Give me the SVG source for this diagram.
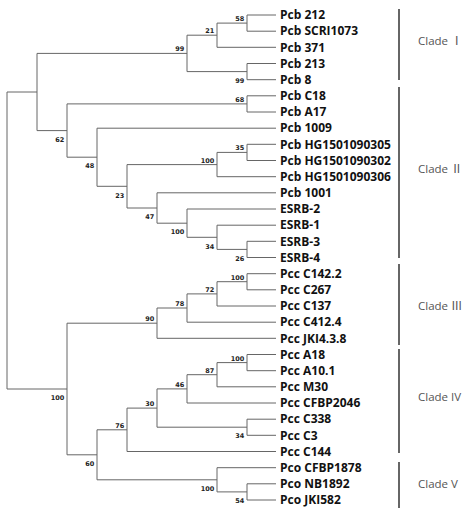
<svg xmlns="http://www.w3.org/2000/svg" width="474" height="515" viewBox="0 0 474 515">
<style>
.br{fill:none;stroke:#666;stroke-width:1}
.leaf{font-family:"Open Sans","Liberation Sans",sans-serif;font-weight:700;font-size:12px;fill:#111}
.bs{font-family:"DejaVu Sans",Verdana,sans-serif;font-weight:700;font-size:6.5px;fill:#222;text-anchor:end}
.bar{stroke:#333;stroke-width:1.5}
.cl{font-family:"Open Sans","Noto Sans CJK KR",sans-serif;font-size:11.5px;fill:#555}
</style>
<rect width="474" height="515" fill="#fff"/>
<g id="connectors">
<path class="br" d="M7,92V389M7,92H37M7,389H67"/>
<path class="br" d="M37,53.4V130.6M37,53.4H187M37,130.6H67"/>
<path class="br" d="M187,35.2V71.6M187,35.2H217M187,71.6H247"/>
<path class="br" d="M217,23.1V47.3M217,23.1H247M217,47.3H276"/>
<path class="br" d="M247,15V31.2M247,15H276M247,31.2H276"/>
<path class="br" d="M247,63.5V79.7M247,63.5H276M247,79.7H276"/>
<path class="br" d="M67,103.9V157.2M67,103.9H247M67,157.2H97"/>
<path class="br" d="M247,95.8V112M247,95.8H276M247,112H276"/>
<path class="br" d="M97,128.2V186.3M97,128.2H276M97,186.3H127"/>
<path class="br" d="M127,164.6V208M127,164.6H217M127,208H157"/>
<path class="br" d="M217,152.4V176.7M217,152.4H247M217,176.7H276"/>
<path class="br" d="M247,144.3V160.5M247,144.3H276M247,160.5H276"/>
<path class="br" d="M157,192.8V223.2M157,192.8H276M157,223.2H187"/>
<path class="br" d="M187,209V237.3M187,209H276M187,237.3H217"/>
<path class="br" d="M217,225.2V249.4M217,225.2H276M217,249.4H247"/>
<path class="br" d="M247,241.3V257.5M247,241.3H276M247,257.5H276"/>
<path class="br" d="M67,323.2V454.8M67,323.2H157M67,454.8H97"/>
<path class="br" d="M157,308V338.3M157,308H187M157,338.3H276"/>
<path class="br" d="M187,293.9V322.2M187,293.9H217M187,322.2H276"/>
<path class="br" d="M217,281.7V306M217,281.7H247M217,306H276"/>
<path class="br" d="M247,273.7V289.8M247,273.7H276M247,289.8H276"/>
<path class="br" d="M97,429.8V479.8M97,429.8H127M97,479.8H217"/>
<path class="br" d="M127,408.1V451.5M127,408.1H157M127,451.5H276"/>
<path class="br" d="M157,388.9V427.2M157,388.9H187M157,427.2H247"/>
<path class="br" d="M187,374.7V403M187,374.7H217M187,403H276"/>
<path class="br" d="M217,362.6V386.8M217,362.6H247M217,386.8H276"/>
<path class="br" d="M247,354.5V370.7M247,354.5H276M247,370.7H276"/>
<path class="br" d="M247,419.2V435.3M247,419.2H276M247,435.3H276"/>
<path class="br" d="M217,467.7V491.9M217,467.7H276M217,491.9H247"/>
<path class="br" d="M247,483.8V500M247,483.8H276M247,500H276"/>
</g>
<g id="bootstrap">
<g id="n99"><text class="bs" x="184.3" y="51.3">99</text></g>
<g id="n21"><text class="bs" x="214.3" y="33.1">21</text></g>
<g id="n58"><text class="bs" x="244.3" y="21">58</text></g>
<g id="n99b"><text class="bs" x="244.3" y="82.8">99</text></g>
<g id="n62"><text class="bs" x="64.3" y="141.8">62</text></g>
<g id="n68"><text class="bs" x="244.3" y="101.8">68</text></g>
<g id="n48"><text class="bs" x="94.3" y="168.4">48</text></g>
<g id="n23"><text class="bs" x="124.3" y="197.5">23</text></g>
<g id="n100a"><text class="bs" x="214.3" y="162.5">100</text></g>
<g id="n35"><text class="bs" x="244.3" y="150.3">35</text></g>
<g id="n47"><text class="bs" x="154.3" y="219.2">47</text></g>
<g id="n100b"><text class="bs" x="184.3" y="234.4">100</text></g>
<g id="n34"><text class="bs" x="214.3" y="248.5">34</text></g>
<g id="n26"><text class="bs" x="244.3" y="260.6">26</text></g>
<g id="n100c"><text class="bs" x="64.3" y="400.2">100</text></g>
<g id="n90"><text class="bs" x="154.3" y="321.1">90</text></g>
<g id="n78"><text class="bs" x="184.3" y="305.9">78</text></g>
<g id="n72"><text class="bs" x="214.3" y="291.8">72</text></g>
<g id="n100d"><text class="bs" x="244.3" y="279.6">100</text></g>
<g id="n60"><text class="bs" x="94.3" y="466">60</text></g>
<g id="n76"><text class="bs" x="124.3" y="427.7">76</text></g>
<g id="n30"><text class="bs" x="154.3" y="406">30</text></g>
<g id="n46"><text class="bs" x="184.3" y="386.8">46</text></g>
<g id="n87"><text class="bs" x="214.3" y="372.6">87</text></g>
<g id="n100f"><text class="bs" x="244.3" y="360.5">100</text></g>
<g id="n34b"><text class="bs" x="244.3" y="438.4">34</text></g>
<g id="n100e"><text class="bs" x="214.3" y="491">100</text></g>
<g id="n54"><text class="bs" x="244.3" y="503.1">54</text></g>
</g>
<g id="leaves">
<g id="leaf0"><text class="leaf" x="280" y="19.2">Pcb 212</text></g>
<g id="leaf1"><text class="leaf" x="280" y="35.4">Pcb SCRI1073</text></g>
<g id="leaf2"><text class="leaf" x="280" y="51.5">Pcb 371</text></g>
<g id="leaf3"><text class="leaf" x="280" y="67.7">Pcb 213</text></g>
<g id="leaf4"><text class="leaf" x="280" y="83.9">Pcb 8</text></g>
<g id="leaf5"><text class="leaf" x="280" y="100">Pcb C18</text></g>
<g id="leaf6"><text class="leaf" x="280" y="116.2">Pcb A17</text></g>
<g id="leaf7"><text class="leaf" x="280" y="132.4">Pcb 1009</text></g>
<g id="leaf8"><text class="leaf" x="280" y="148.5">Pcb HG1501090305</text></g>
<g id="leaf9"><text class="leaf" x="280" y="164.7">Pcb HG1501090302</text></g>
<g id="leaf10"><text class="leaf" x="280" y="180.9">Pcb HG1501090306</text></g>
<g id="leaf11"><text class="leaf" x="280" y="197">Pcb 1001</text></g>
<g id="leaf12"><text class="leaf" x="280" y="213.2">ESRB-2</text></g>
<g id="leaf13"><text class="leaf" x="280" y="229.4">ESRB-1</text></g>
<g id="leaf14"><text class="leaf" x="280" y="245.5">ESRB-3</text></g>
<g id="leaf15"><text class="leaf" x="280" y="261.7">ESRB-4</text></g>
<g id="leaf16"><text class="leaf" x="280" y="277.9">Pcc C142.2</text></g>
<g id="leaf17"><text class="leaf" x="280" y="294">Pcc C267</text></g>
<g id="leaf18"><text class="leaf" x="280" y="310.2">Pcc C137</text></g>
<g id="leaf19"><text class="leaf" x="280" y="326.4">Pcc C412.4</text></g>
<g id="leaf20"><text class="leaf" x="280" y="342.5">Pcc JKI4.3.8</text></g>
<g id="leaf21"><text class="leaf" x="280" y="358.7">Pcc A18</text></g>
<g id="leaf22"><text class="leaf" x="280" y="374.9">Pcc A10.1</text></g>
<g id="leaf23"><text class="leaf" x="280" y="391">Pcc M30</text></g>
<g id="leaf24"><text class="leaf" x="280" y="407.2">Pcc CFBP2046</text></g>
<g id="leaf25"><text class="leaf" x="280" y="423.4">Pcc C338</text></g>
<g id="leaf26"><text class="leaf" x="280" y="439.5">Pcc C3</text></g>
<g id="leaf27"><text class="leaf" x="280" y="455.7">Pcc C144</text></g>
<g id="leaf28"><text class="leaf" x="280" y="471.9">Pco CFBP1878</text></g>
<g id="leaf29"><text class="leaf" x="280" y="488">Pco NB1892</text></g>
<g id="leaf30"><text class="leaf" x="280" y="504.2">Pco JKI582</text></g>
</g>
<g id="clades">
<g id="clade1"><line class="bar" x1="399" y1="9" x2="399" y2="80"/><text class="cl" x="418" y="45">Clade Ⅰ</text></g>
<g id="clade2"><line class="bar" x1="399" y1="87" x2="399" y2="258"/><text class="cl" x="418" y="173">Clade Ⅱ</text></g>
<g id="clade3"><line class="bar" x1="399" y1="264" x2="399" y2="345"/><text class="cl" x="418" y="310">Clade Ⅲ</text></g>
<g id="clade4"><line class="bar" x1="399" y1="349" x2="399" y2="453"/><text class="cl" x="418" y="401">Clade IV</text></g>
<g id="clade5"><line class="bar" x1="399" y1="462" x2="399" y2="508"/><text class="cl" x="418" y="488">Clade V</text></g>
</g>
</svg>
